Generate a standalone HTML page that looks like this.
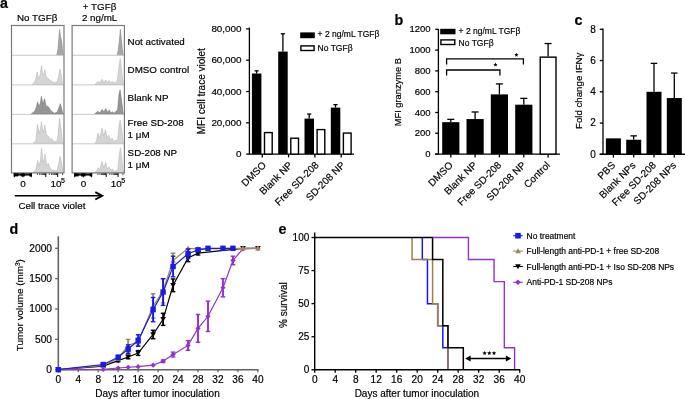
<!DOCTYPE html>
<html><head><meta charset="utf-8"><style>
html,body{margin:0;padding:0;background:#fff;}
svg{display:block;will-change:transform;}
text{font-family:"Liberation Sans", sans-serif;stroke:#000;stroke-width:0.18px;}
</style></head><body>
<svg width="685" height="399" viewBox="0 0 685 399" font-family='"Liberation Sans", sans-serif'>
<rect width="685" height="399" fill="#fff"/>
<text x="0.00" y="8.30" font-size="14.3" text-anchor="start" font-weight="bold" fill="#000" >a</text>
<text x="394.60" y="25.00" font-size="14.3" text-anchor="start" font-weight="bold" fill="#000" >b</text>
<text x="574.60" y="25.00" font-size="14.3" text-anchor="start" font-weight="bold" fill="#000" >c</text>
<text x="9.60" y="233.80" font-size="14.3" text-anchor="start" font-weight="bold" fill="#000" >d</text>
<text x="278.40" y="233.80" font-size="14.3" text-anchor="start" font-weight="bold" fill="#000" >e</text>
<text x="37.20" y="20.70" font-size="9.8" text-anchor="middle" font-weight="normal" fill="#000" >No TGFβ</text>
<text x="99.60" y="9.60" font-size="9.8" text-anchor="middle" font-weight="normal" fill="#000" >+ TGFβ</text>
<text x="99.60" y="20.70" font-size="9.8" text-anchor="middle" font-weight="normal" fill="#000" >2 ng/mL</text>
<path d="M56.80,54.80 L56.80,54.80 L58.00,48.80 L58.80,38.80 L59.60,29.50 L60.60,36.80 L61.60,40.80 L62.40,48.30 L63.00,54.80 Z" fill="#a6a6a6" stroke="#8c8c8c" stroke-width="0.6" stroke-linejoin="round"/>
<path d="M32.20,84.40 L32.20,84.40 L34.00,82.90 L35.60,79.40 L36.60,75.40 L37.30,72.00 L38.00,76.40 L39.00,78.40 L40.30,74.40 L41.50,65.60 L42.40,73.40 L43.20,75.00 L44.20,72.40 L45.00,69.90 L45.80,75.40 L46.70,77.60 L48.40,78.40 L50.00,80.40 L52.60,81.80 L54.00,82.40 L56.50,82.40 L57.70,80.40 L59.00,73.40 L59.90,69.10 L60.80,73.40 L61.80,79.40 L62.60,84.40 Z" fill="#d5d5d5" stroke="#bababa" stroke-width="0.6" stroke-linejoin="round"/>
<path d="M31.30,113.90 L31.30,113.90 L34.70,111.20 L36.50,106.90 L37.50,101.90 L39.00,106.50 L40.50,102.90 L41.40,96.30 L42.80,103.90 L43.70,101.90 L44.50,98.80 L46.20,106.50 L47.90,106.20 L50.90,110.70 L54.30,113.30 L57.30,112.00 L59.20,106.90 L60.30,103.70 L61.50,107.90 L62.40,112.00 L63.30,113.90 Z" fill="#959595" stroke="#777777" stroke-width="0.6" stroke-linejoin="round"/>
<path d="M33.00,143.30 L33.00,143.30 L35.60,141.20 L36.70,133.30 L37.50,124.50 L39.40,133.50 L40.60,128.30 L41.40,121.60 L43.10,132.60 L44.00,129.30 L44.80,125.00 L46.50,135.20 L48.40,136.10 L50.10,139.50 L51.80,138.60 L53.90,141.60 L56.90,141.60 L58.20,134.30 L59.60,118.20 L61.20,130.10 L62.40,141.30 L63.00,143.30 Z" fill="#d5d5d5" stroke="#bababa" stroke-width="0.6" stroke-linejoin="round"/>
<path d="M33.00,172.40 L33.00,172.40 L35.60,170.30 L37.70,160.50 L39.40,166.00 L40.60,158.40 L41.50,148.10 L43.20,162.60 L44.20,159.40 L45.00,154.10 L46.70,165.20 L48.40,163.40 L50.10,168.60 L52.60,170.30 L56.90,171.10 L58.60,164.30 L60.10,156.60 L61.60,162.60 L62.70,171.10 L63.30,172.40 Z" fill="#d5d5d5" stroke="#bababa" stroke-width="0.6" stroke-linejoin="round"/>
<line x1="11.50" y1="55.30" x2="64.00" y2="55.30" stroke="#bdbdbd" stroke-width="0.8" />
<line x1="11.50" y1="84.90" x2="64.00" y2="84.90" stroke="#bdbdbd" stroke-width="0.8" />
<line x1="11.50" y1="114.40" x2="64.00" y2="114.40" stroke="#bdbdbd" stroke-width="0.8" />
<line x1="11.50" y1="143.80" x2="64.00" y2="143.80" stroke="#bdbdbd" stroke-width="0.8" />
<rect x="11.50" y="25.50" width="52.50" height="147.40" fill="none" stroke="#7a7a7a" stroke-width="1.2"/>
<rect x="13.80" y="173.40" width="17.90" height="2.20" fill="#111" stroke="none" stroke-width="0"/>
<rect x="13.80" y="173.40" width="4.50" height="3.00" fill="#000" stroke="none" stroke-width="0"/>
<rect x="20.60" y="173.40" width="4.40" height="3.00" fill="#000" stroke="none" stroke-width="0"/>
<rect x="29.20" y="173.40" width="2.50" height="3.00" fill="#000" stroke="none" stroke-width="0"/>
<line x1="14.40" y1="173.40" x2="14.40" y2="177.20" stroke="#000" stroke-width="1.1" />
<line x1="23.00" y1="173.40" x2="23.00" y2="177.20" stroke="#000" stroke-width="1.1" />
<line x1="31.20" y1="173.40" x2="31.20" y2="177.20" stroke="#000" stroke-width="1.1" />
<line x1="37.48" y1="173.40" x2="37.48" y2="175.00" stroke="#000" stroke-width="0.7" />
<line x1="49.38" y1="173.40" x2="49.38" y2="175.00" stroke="#000" stroke-width="0.7" />
<line x1="39.58" y1="173.40" x2="39.58" y2="175.00" stroke="#000" stroke-width="0.7" />
<line x1="51.48" y1="173.40" x2="51.48" y2="175.00" stroke="#000" stroke-width="0.7" />
<line x1="41.06" y1="173.40" x2="41.06" y2="175.00" stroke="#000" stroke-width="0.7" />
<line x1="52.96" y1="173.40" x2="52.96" y2="175.00" stroke="#000" stroke-width="0.7" />
<line x1="42.22" y1="173.40" x2="42.22" y2="175.00" stroke="#000" stroke-width="0.7" />
<line x1="54.12" y1="173.40" x2="54.12" y2="175.00" stroke="#000" stroke-width="0.7" />
<line x1="43.16" y1="173.40" x2="43.16" y2="175.00" stroke="#000" stroke-width="0.7" />
<line x1="55.06" y1="173.40" x2="55.06" y2="175.00" stroke="#000" stroke-width="0.7" />
<line x1="43.96" y1="173.40" x2="43.96" y2="175.00" stroke="#000" stroke-width="0.7" />
<line x1="55.86" y1="173.40" x2="55.86" y2="175.00" stroke="#000" stroke-width="0.7" />
<line x1="44.65" y1="173.40" x2="44.65" y2="175.00" stroke="#000" stroke-width="0.7" />
<line x1="56.55" y1="173.40" x2="56.55" y2="175.00" stroke="#000" stroke-width="0.7" />
<line x1="45.26" y1="173.40" x2="45.26" y2="175.00" stroke="#000" stroke-width="0.7" />
<line x1="57.16" y1="173.40" x2="57.16" y2="175.00" stroke="#000" stroke-width="0.7" />
<line x1="45.80" y1="173.40" x2="45.80" y2="177.00" stroke="#000" stroke-width="1.0" />
<line x1="57.70" y1="173.40" x2="57.70" y2="177.00" stroke="#000" stroke-width="1.0" />
<line x1="62.60" y1="173.40" x2="62.60" y2="175.20" stroke="#000" stroke-width="0.7" />
<text x="23.10" y="187.00" font-size="9.9" text-anchor="middle" font-weight="normal" fill="#000" >0</text>
<text x="50.40" y="187.00" font-size="9.9" text-anchor="start" font-weight="normal" fill="#000" >10</text>
<text x="60.90" y="183.20" font-size="7.0" text-anchor="start" font-weight="normal" fill="#000" >5</text>
<path d="M117.20,54.80 L117.20,54.80 L118.30,49.80 L119.50,38.80 L120.40,29.30 L121.20,37.80 L122.20,47.80 L123.20,54.80 Z" fill="#a6a6a6" stroke="#8c8c8c" stroke-width="0.6" stroke-linejoin="round"/>
<path d="M94.70,84.40 L94.70,84.40 L98.10,81.40 L99.80,82.70 L102.00,79.30 L103.90,82.30 L105.80,80.10 L107.50,82.30 L109.20,80.60 L110.90,82.70 L112.60,81.80 L115.20,82.70 L117.30,80.60 L119.00,66.50 L120.30,58.40 L121.60,70.40 L122.90,81.40 L123.50,84.40 Z" fill="#d5d5d5" stroke="#bababa" stroke-width="0.6" stroke-linejoin="round"/>
<path d="M94.70,113.90 L94.70,113.90 L97.70,111.20 L99.80,112.90 L102.00,109.50 L103.90,112.00 L105.80,108.60 L107.50,112.50 L109.20,109.90 L110.90,112.90 L112.60,112.00 L114.30,113.30 L116.00,111.20 L117.70,109.50 L119.00,94.10 L120.10,89.90 L121.60,100.90 L122.90,112.00 L123.50,113.90 Z" fill="#959595" stroke="#777777" stroke-width="0.6" stroke-linejoin="round"/>
<path d="M94.70,143.30 L94.70,143.30 L96.40,141.20 L98.00,133.10 L99.80,138.60 L102.00,128.40 L103.70,136.10 L105.40,129.70 L107.10,137.80 L108.80,135.20 L110.50,140.30 L112.20,138.20 L113.90,141.60 L116.00,140.30 L117.70,140.30 L119.00,125.80 L120.10,120.30 L121.60,128.40 L122.90,141.20 L123.50,143.30 Z" fill="#d5d5d5" stroke="#bababa" stroke-width="0.6" stroke-linejoin="round"/>
<path d="M94.70,172.40 L94.70,172.40 L96.40,170.70 L98.10,167.70 L99.80,169.80 L102.00,161.30 L103.70,168.10 L105.60,162.20 L107.30,169.00 L109.00,166.90 L110.90,170.30 L112.60,169.00 L114.30,171.10 L117.70,170.70 L119.30,154.50 L120.50,147.70 L121.80,158.80 L123.00,169.80 L123.70,172.40 Z" fill="#d5d5d5" stroke="#bababa" stroke-width="0.6" stroke-linejoin="round"/>
<line x1="72.10" y1="55.30" x2="124.40" y2="55.30" stroke="#bdbdbd" stroke-width="0.8" />
<line x1="72.10" y1="84.90" x2="124.40" y2="84.90" stroke="#bdbdbd" stroke-width="0.8" />
<line x1="72.10" y1="114.40" x2="124.40" y2="114.40" stroke="#bdbdbd" stroke-width="0.8" />
<line x1="72.10" y1="143.80" x2="124.40" y2="143.80" stroke="#bdbdbd" stroke-width="0.8" />
<rect x="72.10" y="25.50" width="52.30" height="147.40" fill="none" stroke="#7a7a7a" stroke-width="1.2"/>
<rect x="74.20" y="173.40" width="17.90" height="2.20" fill="#111" stroke="none" stroke-width="0"/>
<rect x="74.20" y="173.40" width="4.50" height="3.00" fill="#000" stroke="none" stroke-width="0"/>
<rect x="81.00" y="173.40" width="4.40" height="3.00" fill="#000" stroke="none" stroke-width="0"/>
<rect x="89.60" y="173.40" width="2.50" height="3.00" fill="#000" stroke="none" stroke-width="0"/>
<line x1="74.80" y1="173.40" x2="74.80" y2="177.20" stroke="#000" stroke-width="1.1" />
<line x1="83.40" y1="173.40" x2="83.40" y2="177.20" stroke="#000" stroke-width="1.1" />
<line x1="91.60" y1="173.40" x2="91.60" y2="177.20" stroke="#000" stroke-width="1.1" />
<line x1="97.88" y1="173.40" x2="97.88" y2="175.00" stroke="#000" stroke-width="0.7" />
<line x1="109.78" y1="173.40" x2="109.78" y2="175.00" stroke="#000" stroke-width="0.7" />
<line x1="99.98" y1="173.40" x2="99.98" y2="175.00" stroke="#000" stroke-width="0.7" />
<line x1="111.88" y1="173.40" x2="111.88" y2="175.00" stroke="#000" stroke-width="0.7" />
<line x1="101.46" y1="173.40" x2="101.46" y2="175.00" stroke="#000" stroke-width="0.7" />
<line x1="113.36" y1="173.40" x2="113.36" y2="175.00" stroke="#000" stroke-width="0.7" />
<line x1="102.62" y1="173.40" x2="102.62" y2="175.00" stroke="#000" stroke-width="0.7" />
<line x1="114.52" y1="173.40" x2="114.52" y2="175.00" stroke="#000" stroke-width="0.7" />
<line x1="103.56" y1="173.40" x2="103.56" y2="175.00" stroke="#000" stroke-width="0.7" />
<line x1="115.46" y1="173.40" x2="115.46" y2="175.00" stroke="#000" stroke-width="0.7" />
<line x1="104.36" y1="173.40" x2="104.36" y2="175.00" stroke="#000" stroke-width="0.7" />
<line x1="116.26" y1="173.40" x2="116.26" y2="175.00" stroke="#000" stroke-width="0.7" />
<line x1="105.05" y1="173.40" x2="105.05" y2="175.00" stroke="#000" stroke-width="0.7" />
<line x1="116.95" y1="173.40" x2="116.95" y2="175.00" stroke="#000" stroke-width="0.7" />
<line x1="105.66" y1="173.40" x2="105.66" y2="175.00" stroke="#000" stroke-width="0.7" />
<line x1="117.56" y1="173.40" x2="117.56" y2="175.00" stroke="#000" stroke-width="0.7" />
<line x1="106.20" y1="173.40" x2="106.20" y2="177.00" stroke="#000" stroke-width="1.0" />
<line x1="118.10" y1="173.40" x2="118.10" y2="177.00" stroke="#000" stroke-width="1.0" />
<line x1="123.00" y1="173.40" x2="123.00" y2="175.20" stroke="#000" stroke-width="0.7" />
<text x="83.50" y="187.00" font-size="9.9" text-anchor="middle" font-weight="normal" fill="#000" >0</text>
<text x="110.80" y="187.00" font-size="9.9" text-anchor="start" font-weight="normal" fill="#000" >10</text>
<text x="121.30" y="183.20" font-size="7.0" text-anchor="start" font-weight="normal" fill="#000" >5</text>
<text x="127.60" y="45.00" font-size="9.8" text-anchor="start" font-weight="normal" fill="#000" >Not activated</text>
<text x="127.60" y="73.00" font-size="9.8" text-anchor="start" font-weight="normal" fill="#000" >DMSO control</text>
<text x="127.60" y="100.60" font-size="9.8" text-anchor="start" font-weight="normal" fill="#000" >Blank NP</text>
<text x="127.60" y="126.30" font-size="9.8" text-anchor="start" font-weight="normal" fill="#000" >Free SD-208</text>
<text x="127.60" y="138.20" font-size="9.8" text-anchor="start" font-weight="normal" fill="#000" >1 μM</text>
<text x="127.60" y="155.70" font-size="9.8" text-anchor="start" font-weight="normal" fill="#000" >SD-208 NP</text>
<text x="127.60" y="167.70" font-size="9.8" text-anchor="start" font-weight="normal" fill="#000" >1 μM</text>
<line x1="14.80" y1="195.80" x2="101.50" y2="195.80" stroke="#000" stroke-width="1.6" />
<polyline points="95.3,192.1 102.2,195.8 95.3,199.5" fill="none" stroke="#000" stroke-width="1.9" stroke-linejoin="miter"/>
<text x="18.40" y="209.00" font-size="9.8" text-anchor="start" font-weight="normal" fill="#000" >Cell trace violet</text>
<line x1="249.40" y1="27.60" x2="249.40" y2="154.10" stroke="#000" stroke-width="1.3" />
<line x1="246.20" y1="154.10" x2="249.40" y2="154.10" stroke="#000" stroke-width="1.3" />
<text x="241.60" y="157.27" font-size="9.9" text-anchor="end" font-weight="normal" fill="#000" >0</text>
<line x1="246.20" y1="122.80" x2="249.40" y2="122.80" stroke="#000" stroke-width="1.3" />
<text x="241.60" y="125.97" font-size="9.9" text-anchor="end" font-weight="normal" fill="#000" >20,000</text>
<line x1="246.20" y1="91.50" x2="249.40" y2="91.50" stroke="#000" stroke-width="1.3" />
<text x="241.60" y="94.67" font-size="9.9" text-anchor="end" font-weight="normal" fill="#000" >40,000</text>
<line x1="246.20" y1="60.20" x2="249.40" y2="60.20" stroke="#000" stroke-width="1.3" />
<text x="241.60" y="63.37" font-size="9.9" text-anchor="end" font-weight="normal" fill="#000" >60,000</text>
<line x1="246.20" y1="28.90" x2="249.40" y2="28.90" stroke="#000" stroke-width="1.3" />
<text x="241.60" y="32.07" font-size="9.9" text-anchor="end" font-weight="normal" fill="#000" >80,000</text>
<line x1="248.80" y1="154.10" x2="354.00" y2="154.10" stroke="#000" stroke-width="1.4" />
<line x1="256.60" y1="73.50" x2="256.60" y2="70.84" stroke="#000" stroke-width="1.3" />
<line x1="254.50" y1="70.84" x2="258.70" y2="70.84" stroke="#000" stroke-width="1.3" />
<rect x="251.90" y="73.50" width="9.50" height="80.60" fill="#000" stroke="none" stroke-width="0"/>
<rect x="264.50" y="132.58" width="7.70" height="21.52" fill="#fff" stroke="#000" stroke-width="1.4"/>
<line x1="262.30" y1="154.10" x2="262.30" y2="157.40" stroke="#000" stroke-width="1.3" />
<line x1="282.90" y1="51.59" x2="282.90" y2="33.75" stroke="#000" stroke-width="1.3" />
<line x1="280.80" y1="33.75" x2="285.00" y2="33.75" stroke="#000" stroke-width="1.3" />
<rect x="278.20" y="51.59" width="9.50" height="102.51" fill="#000" stroke="none" stroke-width="0"/>
<rect x="290.80" y="138.21" width="7.70" height="15.89" fill="#fff" stroke="#000" stroke-width="1.4"/>
<line x1="288.60" y1="154.10" x2="288.60" y2="157.40" stroke="#000" stroke-width="1.3" />
<line x1="309.20" y1="118.57" x2="309.20" y2="114.04" stroke="#000" stroke-width="1.3" />
<line x1="307.10" y1="114.04" x2="311.30" y2="114.04" stroke="#000" stroke-width="1.3" />
<rect x="304.50" y="118.57" width="9.50" height="35.53" fill="#000" stroke="none" stroke-width="0"/>
<rect x="317.10" y="129.60" width="7.70" height="24.50" fill="#fff" stroke="#000" stroke-width="1.4"/>
<line x1="314.90" y1="154.10" x2="314.90" y2="157.40" stroke="#000" stroke-width="1.3" />
<line x1="335.50" y1="107.62" x2="335.50" y2="104.65" stroke="#000" stroke-width="1.3" />
<line x1="333.40" y1="104.65" x2="337.60" y2="104.65" stroke="#000" stroke-width="1.3" />
<rect x="330.80" y="107.62" width="9.50" height="46.48" fill="#000" stroke="none" stroke-width="0"/>
<rect x="343.40" y="133.05" width="7.70" height="21.05" fill="#fff" stroke="#000" stroke-width="1.4"/>
<line x1="341.20" y1="154.10" x2="341.20" y2="157.40" stroke="#000" stroke-width="1.3" />
<text x="266.80" y="165.70" font-size="10" text-anchor="end" transform="rotate(-45 266.80 165.70)">DMSO</text>
<text x="293.10" y="165.70" font-size="10" text-anchor="end" transform="rotate(-45 293.10 165.70)">Blank NP</text>
<text x="319.40" y="165.70" font-size="10" text-anchor="end" transform="rotate(-45 319.40 165.70)">Free SD-208</text>
<text x="345.70" y="165.70" font-size="10" text-anchor="end" transform="rotate(-45 345.70 165.70)">SD-208 NP</text>
<text font-size="10" text-anchor="middle" transform="translate(205.4 91.2) rotate(-90)">MFI cell trace violet</text>
<rect x="300.20" y="32.40" width="14.60" height="5.80" fill="#000" stroke="none" stroke-width="0"/>
<rect x="300.9" y="45.9" width="13.2" height="4.6" fill="#fff" stroke="#000" stroke-width="1.4"/>
<text x="317.60" y="37.30" font-size="8.5" text-anchor="start" font-weight="normal" fill="#000" >+ 2 ng/mL TGFβ</text>
<text x="317.60" y="50.50" font-size="8.5" text-anchor="start" font-weight="normal" fill="#000" >No TGFβ</text>
<line x1="438.40" y1="29.00" x2="438.40" y2="154.10" stroke="#000" stroke-width="1.3" />
<line x1="435.20" y1="154.10" x2="438.40" y2="154.10" stroke="#000" stroke-width="1.3" />
<text x="430.60" y="157.14" font-size="9.5" text-anchor="end" font-weight="normal" fill="#000" >0</text>
<line x1="435.20" y1="133.30" x2="438.40" y2="133.30" stroke="#000" stroke-width="1.3" />
<text x="430.60" y="136.34" font-size="9.5" text-anchor="end" font-weight="normal" fill="#000" >200</text>
<line x1="435.20" y1="112.50" x2="438.40" y2="112.50" stroke="#000" stroke-width="1.3" />
<text x="430.60" y="115.54" font-size="9.5" text-anchor="end" font-weight="normal" fill="#000" >400</text>
<line x1="435.20" y1="91.70" x2="438.40" y2="91.70" stroke="#000" stroke-width="1.3" />
<text x="430.60" y="94.74" font-size="9.5" text-anchor="end" font-weight="normal" fill="#000" >600</text>
<line x1="435.20" y1="70.90" x2="438.40" y2="70.90" stroke="#000" stroke-width="1.3" />
<text x="430.60" y="73.94" font-size="9.5" text-anchor="end" font-weight="normal" fill="#000" >800</text>
<line x1="435.20" y1="50.10" x2="438.40" y2="50.10" stroke="#000" stroke-width="1.3" />
<text x="430.60" y="53.14" font-size="9.5" text-anchor="end" font-weight="normal" fill="#000" >1000</text>
<line x1="435.20" y1="29.30" x2="438.40" y2="29.30" stroke="#000" stroke-width="1.3" />
<text x="430.60" y="32.34" font-size="9.5" text-anchor="end" font-weight="normal" fill="#000" >1200</text>
<line x1="435.00" y1="154.10" x2="560.00" y2="154.10" stroke="#000" stroke-width="1.4" />
<line x1="450.80" y1="122.17" x2="450.80" y2="119.36" stroke="#000" stroke-width="1.3" />
<line x1="447.30" y1="119.36" x2="454.30" y2="119.36" stroke="#000" stroke-width="1.3" />
<rect x="442.20" y="122.17" width="17.20" height="31.93" fill="#000" stroke="none" stroke-width="0"/>
<line x1="450.80" y1="154.10" x2="450.80" y2="157.40" stroke="#000" stroke-width="1.3" />
<line x1="475.10" y1="119.05" x2="475.10" y2="111.98" stroke="#000" stroke-width="1.3" />
<line x1="471.60" y1="111.98" x2="478.60" y2="111.98" stroke="#000" stroke-width="1.3" />
<rect x="466.50" y="119.05" width="17.20" height="35.05" fill="#000" stroke="none" stroke-width="0"/>
<line x1="475.10" y1="154.10" x2="475.10" y2="157.40" stroke="#000" stroke-width="1.3" />
<line x1="499.40" y1="94.40" x2="499.40" y2="83.90" stroke="#000" stroke-width="1.3" />
<line x1="495.90" y1="83.90" x2="502.90" y2="83.90" stroke="#000" stroke-width="1.3" />
<rect x="490.80" y="94.40" width="17.20" height="59.70" fill="#000" stroke="none" stroke-width="0"/>
<line x1="499.40" y1="154.10" x2="499.40" y2="157.40" stroke="#000" stroke-width="1.3" />
<line x1="523.80" y1="104.70" x2="523.80" y2="98.36" stroke="#000" stroke-width="1.3" />
<line x1="520.30" y1="98.36" x2="527.30" y2="98.36" stroke="#000" stroke-width="1.3" />
<rect x="515.20" y="104.70" width="17.20" height="49.40" fill="#000" stroke="none" stroke-width="0"/>
<line x1="523.80" y1="154.10" x2="523.80" y2="157.40" stroke="#000" stroke-width="1.3" />
<line x1="548.10" y1="56.44" x2="548.10" y2="43.55" stroke="#000" stroke-width="1.3" />
<line x1="544.60" y1="43.55" x2="551.60" y2="43.55" stroke="#000" stroke-width="1.3" />
<rect x="540.20" y="57.14" width="15.80" height="96.96" fill="#fff" stroke="#000" stroke-width="1.4"/>
<line x1="548.10" y1="154.10" x2="548.10" y2="157.40" stroke="#000" stroke-width="1.3" />
<text x="453.40" y="165.70" font-size="10" text-anchor="end" transform="rotate(-45 453.40 165.70)">DMSO</text>
<text x="477.70" y="165.70" font-size="10" text-anchor="end" transform="rotate(-45 477.70 165.70)">Blank NP</text>
<text x="502.00" y="165.70" font-size="10" text-anchor="end" transform="rotate(-45 502.00 165.70)">Free SD-208</text>
<text x="526.40" y="165.70" font-size="10" text-anchor="end" transform="rotate(-45 526.40 165.70)">SD-208 NP</text>
<text x="550.70" y="165.70" font-size="10" text-anchor="end" transform="rotate(-45 550.70 165.70)">Control</text>
<text font-size="9.3" text-anchor="middle" transform="translate(401.3 92.2) rotate(-90)">MFI granzyme B</text>
<rect x="440.20" y="28.80" width="15.30" height="5.50" fill="#000" stroke="none" stroke-width="0"/>
<rect x="440.9" y="39.9" width="13.9" height="4.6" fill="#fff" stroke="#000" stroke-width="1.4"/>
<text x="458.60" y="33.80" font-size="8.5" text-anchor="start" font-weight="normal" fill="#000" >+ 2 ng/mL TGFβ</text>
<text x="458.60" y="45.80" font-size="8.5" text-anchor="start" font-weight="normal" fill="#000" >No TGFβ</text>
<polyline points="446.6,64.5 446.6,58.9 523.4,58.9 523.4,64.5" fill="none" stroke="#000" stroke-width="1.3"/>
<polyline points="446.6,75.6 446.6,70.0 499.9,70.0 499.9,75.6" fill="none" stroke="#000" stroke-width="1.3"/>
<polygon points="516.40,52.70 516.98,54.10 518.49,54.22 517.34,55.21 517.69,56.68 516.40,55.89 515.11,56.68 515.46,55.21 514.31,54.22 515.82,54.10" fill="#000"/>
<polygon points="495.50,62.50 496.08,63.90 497.59,64.02 496.44,65.01 496.79,66.48 495.50,65.69 494.21,66.48 494.56,65.01 493.41,64.02 494.92,63.90" fill="#000"/>
<line x1="603.00" y1="28.50" x2="603.00" y2="154.30" stroke="#000" stroke-width="1.3" />
<line x1="599.80" y1="154.30" x2="603.00" y2="154.30" stroke="#000" stroke-width="1.3" />
<text x="595.90" y="157.50" font-size="10" text-anchor="end" font-weight="normal" fill="#000" >0</text>
<line x1="599.80" y1="123.05" x2="603.00" y2="123.05" stroke="#000" stroke-width="1.3" />
<text x="595.90" y="126.25" font-size="10" text-anchor="end" font-weight="normal" fill="#000" >2</text>
<line x1="599.80" y1="91.80" x2="603.00" y2="91.80" stroke="#000" stroke-width="1.3" />
<text x="595.90" y="95.00" font-size="10" text-anchor="end" font-weight="normal" fill="#000" >4</text>
<line x1="599.80" y1="60.55" x2="603.00" y2="60.55" stroke="#000" stroke-width="1.3" />
<text x="595.90" y="63.75" font-size="10" text-anchor="end" font-weight="normal" fill="#000" >6</text>
<line x1="599.80" y1="29.30" x2="603.00" y2="29.30" stroke="#000" stroke-width="1.3" />
<text x="595.90" y="32.50" font-size="10" text-anchor="end" font-weight="normal" fill="#000" >8</text>
<line x1="599.60" y1="154.30" x2="685.00" y2="154.30" stroke="#000" stroke-width="1.4" />
<rect x="605.90" y="138.36" width="15.00" height="15.94" fill="#000" stroke="none" stroke-width="0"/>
<line x1="613.40" y1="154.30" x2="613.40" y2="157.60" stroke="#000" stroke-width="1.3" />
<line x1="633.70" y1="139.77" x2="633.70" y2="135.86" stroke="#000" stroke-width="1.3" />
<line x1="630.45" y1="135.86" x2="636.95" y2="135.86" stroke="#000" stroke-width="1.3" />
<rect x="626.20" y="139.77" width="15.00" height="14.53" fill="#000" stroke="none" stroke-width="0"/>
<line x1="633.70" y1="154.30" x2="633.70" y2="157.60" stroke="#000" stroke-width="1.3" />
<line x1="654.00" y1="91.80" x2="654.00" y2="63.36" stroke="#000" stroke-width="1.3" />
<line x1="650.75" y1="63.36" x2="657.25" y2="63.36" stroke="#000" stroke-width="1.3" />
<rect x="646.50" y="91.80" width="15.00" height="62.50" fill="#000" stroke="none" stroke-width="0"/>
<line x1="654.00" y1="154.30" x2="654.00" y2="157.60" stroke="#000" stroke-width="1.3" />
<line x1="674.30" y1="98.05" x2="674.30" y2="73.05" stroke="#000" stroke-width="1.3" />
<line x1="671.05" y1="73.05" x2="677.55" y2="73.05" stroke="#000" stroke-width="1.3" />
<rect x="666.80" y="98.05" width="15.00" height="56.25" fill="#000" stroke="none" stroke-width="0"/>
<line x1="674.30" y1="154.30" x2="674.30" y2="157.60" stroke="#000" stroke-width="1.3" />
<text x="616.00" y="165.90" font-size="10" text-anchor="end" transform="rotate(-45 616.00 165.90)">PBS</text>
<text x="636.30" y="165.90" font-size="10" text-anchor="end" transform="rotate(-45 636.30 165.90)">Blank NPs</text>
<text x="656.60" y="165.90" font-size="10" text-anchor="end" transform="rotate(-45 656.60 165.90)">Free SD-208</text>
<text x="676.90" y="165.90" font-size="10" text-anchor="end" transform="rotate(-45 676.90 165.90)">SD-208 NPs</text>
<text font-size="9.7" text-anchor="middle" transform="translate(581.6 90.8) rotate(-90)">Fold change IFNγ</text>
<line x1="58.30" y1="236.30" x2="58.30" y2="369.70" stroke="#626262" stroke-width="1.6" />
<line x1="55.10" y1="369.70" x2="58.30" y2="369.70" stroke="#626262" stroke-width="1.3" />
<text x="52.00" y="373.10" font-size="10.2" text-anchor="end" font-weight="normal" fill="#000" >0</text>
<line x1="55.10" y1="339.35" x2="58.30" y2="339.35" stroke="#626262" stroke-width="1.3" />
<text x="52.00" y="342.75" font-size="10.2" text-anchor="end" font-weight="normal" fill="#000" >500</text>
<line x1="55.10" y1="309.00" x2="58.30" y2="309.00" stroke="#626262" stroke-width="1.3" />
<text x="52.00" y="312.40" font-size="10.2" text-anchor="end" font-weight="normal" fill="#000" >1000</text>
<line x1="55.10" y1="278.65" x2="58.30" y2="278.65" stroke="#626262" stroke-width="1.3" />
<text x="52.00" y="282.05" font-size="10.2" text-anchor="end" font-weight="normal" fill="#000" >1500</text>
<line x1="55.10" y1="248.30" x2="58.30" y2="248.30" stroke="#626262" stroke-width="1.3" />
<text x="52.00" y="251.70" font-size="10.2" text-anchor="end" font-weight="normal" fill="#000" >2000</text>
<line x1="58.30" y1="369.70" x2="258.50" y2="369.70" stroke="#626262" stroke-width="1.6" />
<line x1="58.30" y1="369.70" x2="58.30" y2="372.30" stroke="#626262" stroke-width="1.3" />
<text x="58.30" y="383.30" font-size="10.1" text-anchor="middle" font-weight="normal" fill="#000" >0</text>
<line x1="78.26" y1="369.70" x2="78.26" y2="372.30" stroke="#626262" stroke-width="1.3" />
<text x="78.26" y="383.30" font-size="10.1" text-anchor="middle" font-weight="normal" fill="#000" >4</text>
<line x1="98.22" y1="369.70" x2="98.22" y2="372.30" stroke="#626262" stroke-width="1.3" />
<text x="98.22" y="383.30" font-size="10.1" text-anchor="middle" font-weight="normal" fill="#000" >8</text>
<line x1="118.18" y1="369.70" x2="118.18" y2="372.30" stroke="#626262" stroke-width="1.3" />
<text x="118.18" y="383.30" font-size="10.1" text-anchor="middle" font-weight="normal" fill="#000" >12</text>
<line x1="138.14" y1="369.70" x2="138.14" y2="372.30" stroke="#626262" stroke-width="1.3" />
<text x="138.14" y="383.30" font-size="10.1" text-anchor="middle" font-weight="normal" fill="#000" >16</text>
<line x1="158.10" y1="369.70" x2="158.10" y2="372.30" stroke="#626262" stroke-width="1.3" />
<text x="158.10" y="383.30" font-size="10.1" text-anchor="middle" font-weight="normal" fill="#000" >20</text>
<line x1="178.06" y1="369.70" x2="178.06" y2="372.30" stroke="#626262" stroke-width="1.3" />
<text x="178.06" y="383.30" font-size="10.1" text-anchor="middle" font-weight="normal" fill="#000" >24</text>
<line x1="198.02" y1="369.70" x2="198.02" y2="372.30" stroke="#626262" stroke-width="1.3" />
<text x="198.02" y="383.30" font-size="10.1" text-anchor="middle" font-weight="normal" fill="#000" >28</text>
<line x1="217.98" y1="369.70" x2="217.98" y2="372.30" stroke="#626262" stroke-width="1.3" />
<text x="217.98" y="383.30" font-size="10.1" text-anchor="middle" font-weight="normal" fill="#000" >32</text>
<line x1="237.94" y1="369.70" x2="237.94" y2="372.30" stroke="#626262" stroke-width="1.3" />
<text x="237.94" y="383.30" font-size="10.1" text-anchor="middle" font-weight="normal" fill="#000" >36</text>
<line x1="257.90" y1="369.70" x2="257.90" y2="372.30" stroke="#626262" stroke-width="1.3" />
<text x="257.90" y="383.30" font-size="10.1" text-anchor="middle" font-weight="normal" fill="#000" >40</text>
<text x="157.50" y="396.60" font-size="10" text-anchor="middle" font-weight="normal" fill="#000" >Days after tumor inoculation</text>
<text font-size="9.9" text-anchor="middle" transform="translate(23.2 305.2) rotate(-90)">Tumor volume (mm<tspan font-size="6.5" dy="-3.5">3</tspan><tspan dy="3.5">)</tspan></text>
<polyline points="58.30,369.70 103.21,366.06 118.18,360.59 128.16,356.95 138.14,353.01 153.11,334.49 163.09,319.32 173.07,285.33 188.04,258.01 198.02,253.16 242.93,248.30 257.90,248.30" fill="none" stroke="#000" stroke-width="1.2"/>
<polygon points="55.50,367.46 61.10,367.46 58.30,372.50" fill="#000"/>
<line x1="103.21" y1="366.97" x2="103.21" y2="365.15" stroke="#000" stroke-width="1.9" />
<line x1="100.91" y1="365.15" x2="105.51" y2="365.15" stroke="#000" stroke-width="1.4" />
<line x1="100.91" y1="366.97" x2="105.51" y2="366.97" stroke="#000" stroke-width="1.4" />
<polygon points="100.41,363.82 106.01,363.82 103.21,368.86" fill="#000"/>
<line x1="118.18" y1="361.81" x2="118.18" y2="359.38" stroke="#000" stroke-width="1.9" />
<line x1="115.88" y1="359.38" x2="120.48" y2="359.38" stroke="#000" stroke-width="1.4" />
<line x1="115.88" y1="361.81" x2="120.48" y2="361.81" stroke="#000" stroke-width="1.4" />
<polygon points="115.38,358.35 120.98,358.35 118.18,363.39" fill="#000"/>
<line x1="128.16" y1="358.77" x2="128.16" y2="355.13" stroke="#000" stroke-width="1.9" />
<line x1="125.86" y1="355.13" x2="130.46" y2="355.13" stroke="#000" stroke-width="1.4" />
<line x1="125.86" y1="358.77" x2="130.46" y2="358.77" stroke="#000" stroke-width="1.4" />
<polygon points="125.36,354.71 130.96,354.71 128.16,359.75" fill="#000"/>
<line x1="138.14" y1="355.44" x2="138.14" y2="350.58" stroke="#000" stroke-width="1.9" />
<line x1="135.84" y1="350.58" x2="140.44" y2="350.58" stroke="#000" stroke-width="1.4" />
<line x1="135.84" y1="355.44" x2="140.44" y2="355.44" stroke="#000" stroke-width="1.4" />
<polygon points="135.34,350.77 140.94,350.77 138.14,355.81" fill="#000"/>
<line x1="153.11" y1="338.74" x2="153.11" y2="330.25" stroke="#000" stroke-width="1.9" />
<line x1="150.81" y1="330.25" x2="155.41" y2="330.25" stroke="#000" stroke-width="1.4" />
<line x1="150.81" y1="338.74" x2="155.41" y2="338.74" stroke="#000" stroke-width="1.4" />
<polygon points="150.31,332.25 155.91,332.25 153.11,337.29" fill="#000"/>
<line x1="163.09" y1="325.39" x2="163.09" y2="313.25" stroke="#000" stroke-width="1.9" />
<line x1="160.79" y1="313.25" x2="165.39" y2="313.25" stroke="#000" stroke-width="1.4" />
<line x1="160.79" y1="325.39" x2="165.39" y2="325.39" stroke="#000" stroke-width="1.4" />
<polygon points="160.29,317.08 165.89,317.08 163.09,322.12" fill="#000"/>
<line x1="173.07" y1="291.70" x2="173.07" y2="278.95" stroke="#000" stroke-width="1.9" />
<line x1="170.77" y1="278.95" x2="175.37" y2="278.95" stroke="#000" stroke-width="1.4" />
<line x1="170.77" y1="291.70" x2="175.37" y2="291.70" stroke="#000" stroke-width="1.4" />
<polygon points="170.27,283.09 175.87,283.09 173.07,288.13" fill="#000"/>
<line x1="188.04" y1="261.65" x2="188.04" y2="254.37" stroke="#000" stroke-width="1.9" />
<line x1="185.74" y1="254.37" x2="190.34" y2="254.37" stroke="#000" stroke-width="1.4" />
<line x1="185.74" y1="261.65" x2="190.34" y2="261.65" stroke="#000" stroke-width="1.4" />
<polygon points="185.24,255.77 190.84,255.77 188.04,260.81" fill="#000"/>
<line x1="198.02" y1="254.98" x2="198.02" y2="251.33" stroke="#000" stroke-width="1.9" />
<line x1="195.72" y1="251.33" x2="200.32" y2="251.33" stroke="#000" stroke-width="1.4" />
<line x1="195.72" y1="254.98" x2="200.32" y2="254.98" stroke="#000" stroke-width="1.4" />
<polygon points="195.22,250.92 200.82,250.92 198.02,255.96" fill="#000"/>
<polygon points="240.13,246.06 245.73,246.06 242.93,251.10" fill="#000"/>
<polygon points="255.10,246.06 260.70,246.06 257.90,251.10" fill="#000"/>
<polyline points="58.30,369.70 103.21,369.40 118.18,368.00 128.16,367.27 138.14,366.66 153.11,365.15 163.09,361.20 173.07,354.52 188.04,345.42 198.02,328.42 208.00,316.28 222.97,287.75 232.95,260.44 242.93,248.91 257.90,248.30" fill="none" stroke="#9430cc" stroke-width="1.2"/>
<polygon points="55.70,369.70 58.30,367.10 60.90,369.70 58.30,372.30" fill="#9430cc"/>
<polygon points="100.61,369.40 103.21,366.80 105.81,369.40 103.21,372.00" fill="#9430cc"/>
<polygon points="115.58,368.00 118.18,365.40 120.78,368.00 118.18,370.60" fill="#9430cc"/>
<polygon points="125.56,367.27 128.16,364.67 130.76,367.27 128.16,369.87" fill="#9430cc"/>
<polygon points="135.54,366.66 138.14,364.06 140.74,366.66 138.14,369.26" fill="#9430cc"/>
<polygon points="150.51,365.15 153.11,362.55 155.71,365.15 153.11,367.75" fill="#9430cc"/>
<line x1="163.09" y1="362.42" x2="163.09" y2="359.99" stroke="#9430cc" stroke-width="1.9" />
<line x1="160.79" y1="359.99" x2="165.39" y2="359.99" stroke="#9430cc" stroke-width="1.4" />
<line x1="160.79" y1="362.42" x2="165.39" y2="362.42" stroke="#9430cc" stroke-width="1.4" />
<polygon points="160.49,361.20 163.09,358.60 165.69,361.20 163.09,363.80" fill="#9430cc"/>
<line x1="173.07" y1="356.95" x2="173.07" y2="352.10" stroke="#9430cc" stroke-width="1.9" />
<line x1="170.77" y1="352.10" x2="175.37" y2="352.10" stroke="#9430cc" stroke-width="1.4" />
<line x1="170.77" y1="356.95" x2="175.37" y2="356.95" stroke="#9430cc" stroke-width="1.4" />
<polygon points="170.47,354.52 173.07,351.92 175.67,354.52 173.07,357.12" fill="#9430cc"/>
<line x1="188.04" y1="350.28" x2="188.04" y2="340.56" stroke="#9430cc" stroke-width="1.9" />
<line x1="185.74" y1="340.56" x2="190.34" y2="340.56" stroke="#9430cc" stroke-width="1.4" />
<line x1="185.74" y1="350.28" x2="190.34" y2="350.28" stroke="#9430cc" stroke-width="1.4" />
<polygon points="185.44,345.42 188.04,342.82 190.64,345.42 188.04,348.02" fill="#9430cc"/>
<line x1="198.02" y1="342.38" x2="198.02" y2="314.46" stroke="#9430cc" stroke-width="1.9" />
<line x1="195.72" y1="314.46" x2="200.32" y2="314.46" stroke="#9430cc" stroke-width="1.4" />
<line x1="195.72" y1="342.38" x2="200.32" y2="342.38" stroke="#9430cc" stroke-width="1.4" />
<polygon points="195.42,328.42 198.02,325.82 200.62,328.42 198.02,331.02" fill="#9430cc"/>
<line x1="208.00" y1="331.46" x2="208.00" y2="301.11" stroke="#9430cc" stroke-width="1.9" />
<line x1="205.70" y1="301.11" x2="210.30" y2="301.11" stroke="#9430cc" stroke-width="1.4" />
<line x1="205.70" y1="331.46" x2="210.30" y2="331.46" stroke="#9430cc" stroke-width="1.4" />
<polygon points="205.40,316.28 208.00,313.68 210.60,316.28 208.00,318.88" fill="#9430cc"/>
<line x1="222.97" y1="296.86" x2="222.97" y2="278.65" stroke="#9430cc" stroke-width="1.9" />
<line x1="220.67" y1="278.65" x2="225.27" y2="278.65" stroke="#9430cc" stroke-width="1.4" />
<line x1="220.67" y1="296.86" x2="225.27" y2="296.86" stroke="#9430cc" stroke-width="1.4" />
<polygon points="220.37,287.75 222.97,285.15 225.57,287.75 222.97,290.36" fill="#9430cc"/>
<line x1="232.95" y1="264.69" x2="232.95" y2="256.19" stroke="#9430cc" stroke-width="1.9" />
<line x1="230.65" y1="256.19" x2="235.25" y2="256.19" stroke="#9430cc" stroke-width="1.4" />
<line x1="230.65" y1="264.69" x2="235.25" y2="264.69" stroke="#9430cc" stroke-width="1.4" />
<polygon points="230.35,260.44 232.95,257.84 235.55,260.44 232.95,263.04" fill="#9430cc"/>
<polygon points="240.33,248.91 242.93,246.31 245.53,248.91 242.93,251.51" fill="#9430cc"/>
<polygon points="255.30,248.30 257.90,245.70 260.50,248.30 257.90,250.90" fill="#9430cc"/>
<polyline points="58.30,369.70 103.21,365.45 118.18,358.17 128.16,345.42 138.14,341.78 153.11,305.96 163.09,290.79 173.07,260.44 188.04,248.30 198.02,248.91 242.93,248.30 257.90,248.30" fill="none" stroke="#9c8a5c" stroke-width="1.2"/>
<polygon points="55.50,371.94 61.10,371.94 58.30,366.90" fill="#9c8a5c"/>
<line x1="103.21" y1="366.66" x2="103.21" y2="364.24" stroke="#9c8a5c" stroke-width="1.9" />
<line x1="100.91" y1="364.24" x2="105.51" y2="364.24" stroke="#9c8a5c" stroke-width="1.4" />
<line x1="100.91" y1="366.66" x2="105.51" y2="366.66" stroke="#9c8a5c" stroke-width="1.4" />
<polygon points="100.41,367.69 106.01,367.69 103.21,362.65" fill="#9c8a5c"/>
<line x1="118.18" y1="359.68" x2="118.18" y2="356.65" stroke="#9c8a5c" stroke-width="1.9" />
<line x1="115.88" y1="356.65" x2="120.48" y2="356.65" stroke="#9c8a5c" stroke-width="1.4" />
<line x1="115.88" y1="359.68" x2="120.48" y2="359.68" stroke="#9c8a5c" stroke-width="1.4" />
<polygon points="115.38,360.41 120.98,360.41 118.18,355.37" fill="#9c8a5c"/>
<line x1="128.16" y1="351.49" x2="128.16" y2="339.35" stroke="#9c8a5c" stroke-width="1.9" />
<line x1="125.86" y1="339.35" x2="130.46" y2="339.35" stroke="#9c8a5c" stroke-width="1.4" />
<line x1="125.86" y1="351.49" x2="130.46" y2="351.49" stroke="#9c8a5c" stroke-width="1.4" />
<polygon points="125.36,347.66 130.96,347.66 128.16,342.62" fill="#9c8a5c"/>
<line x1="138.14" y1="345.42" x2="138.14" y2="338.14" stroke="#9c8a5c" stroke-width="1.9" />
<line x1="135.84" y1="338.14" x2="140.44" y2="338.14" stroke="#9c8a5c" stroke-width="1.4" />
<line x1="135.84" y1="345.42" x2="140.44" y2="345.42" stroke="#9c8a5c" stroke-width="1.4" />
<polygon points="135.34,344.02 140.94,344.02 138.14,338.98" fill="#9c8a5c"/>
<line x1="153.11" y1="318.10" x2="153.11" y2="293.82" stroke="#9c8a5c" stroke-width="1.9" />
<line x1="150.81" y1="293.82" x2="155.41" y2="293.82" stroke="#9c8a5c" stroke-width="1.4" />
<line x1="150.81" y1="318.10" x2="155.41" y2="318.10" stroke="#9c8a5c" stroke-width="1.4" />
<polygon points="150.31,308.20 155.91,308.20 153.11,303.16" fill="#9c8a5c"/>
<line x1="163.09" y1="302.93" x2="163.09" y2="278.65" stroke="#9c8a5c" stroke-width="1.9" />
<line x1="160.79" y1="278.65" x2="165.39" y2="278.65" stroke="#9c8a5c" stroke-width="1.4" />
<line x1="160.79" y1="302.93" x2="165.39" y2="302.93" stroke="#9c8a5c" stroke-width="1.4" />
<polygon points="160.29,293.03 165.89,293.03 163.09,287.99" fill="#9c8a5c"/>
<line x1="173.07" y1="267.72" x2="173.07" y2="253.16" stroke="#9c8a5c" stroke-width="1.9" />
<line x1="170.77" y1="253.16" x2="175.37" y2="253.16" stroke="#9c8a5c" stroke-width="1.4" />
<line x1="170.77" y1="267.72" x2="175.37" y2="267.72" stroke="#9c8a5c" stroke-width="1.4" />
<polygon points="170.27,262.68 175.87,262.68 173.07,257.64" fill="#9c8a5c"/>
<polygon points="185.24,250.54 190.84,250.54 188.04,245.50" fill="#9c8a5c"/>
<polygon points="195.22,251.15 200.82,251.15 198.02,246.11" fill="#9c8a5c"/>
<polygon points="240.13,250.54 245.73,250.54 242.93,245.50" fill="#9c8a5c"/>
<polygon points="255.10,250.54 260.70,250.54 257.90,245.50" fill="#9c8a5c"/>
<polyline points="58.30,369.70 103.21,364.54 118.18,357.26 128.16,349.06 138.14,340.56 153.11,309.61 163.09,292.00 173.07,266.51 188.04,253.76 198.02,249.82 208.00,248.30 222.97,248.30 232.95,248.30" fill="none" stroke="#1a1ae8" stroke-width="1.2"/>
<rect x="55.60" y="367.00" width="5.40" height="5.40" fill="#1a1ae8" stroke="none" stroke-width="0"/>
<line x1="103.21" y1="366.06" x2="103.21" y2="363.02" stroke="#1a1ae8" stroke-width="1.9" />
<line x1="100.91" y1="363.02" x2="105.51" y2="363.02" stroke="#1a1ae8" stroke-width="1.4" />
<line x1="100.91" y1="366.06" x2="105.51" y2="366.06" stroke="#1a1ae8" stroke-width="1.4" />
<rect x="100.51" y="361.84" width="5.40" height="5.40" fill="#1a1ae8" stroke="none" stroke-width="0"/>
<line x1="118.18" y1="359.08" x2="118.18" y2="355.44" stroke="#1a1ae8" stroke-width="1.9" />
<line x1="115.88" y1="355.44" x2="120.48" y2="355.44" stroke="#1a1ae8" stroke-width="1.4" />
<line x1="115.88" y1="359.08" x2="120.48" y2="359.08" stroke="#1a1ae8" stroke-width="1.4" />
<rect x="115.48" y="354.56" width="5.40" height="5.40" fill="#1a1ae8" stroke="none" stroke-width="0"/>
<line x1="128.16" y1="353.31" x2="128.16" y2="344.81" stroke="#1a1ae8" stroke-width="1.9" />
<line x1="125.86" y1="344.81" x2="130.46" y2="344.81" stroke="#1a1ae8" stroke-width="1.4" />
<line x1="125.86" y1="353.31" x2="130.46" y2="353.31" stroke="#1a1ae8" stroke-width="1.4" />
<rect x="125.46" y="346.36" width="5.40" height="5.40" fill="#1a1ae8" stroke="none" stroke-width="0"/>
<line x1="138.14" y1="346.33" x2="138.14" y2="334.80" stroke="#1a1ae8" stroke-width="1.9" />
<line x1="135.84" y1="334.80" x2="140.44" y2="334.80" stroke="#1a1ae8" stroke-width="1.4" />
<line x1="135.84" y1="346.33" x2="140.44" y2="346.33" stroke="#1a1ae8" stroke-width="1.4" />
<rect x="135.44" y="337.86" width="5.40" height="5.40" fill="#1a1ae8" stroke="none" stroke-width="0"/>
<line x1="153.11" y1="321.75" x2="153.11" y2="297.47" stroke="#1a1ae8" stroke-width="1.9" />
<line x1="150.81" y1="297.47" x2="155.41" y2="297.47" stroke="#1a1ae8" stroke-width="1.4" />
<line x1="150.81" y1="321.75" x2="155.41" y2="321.75" stroke="#1a1ae8" stroke-width="1.4" />
<rect x="150.41" y="306.91" width="5.40" height="5.40" fill="#1a1ae8" stroke="none" stroke-width="0"/>
<line x1="163.09" y1="305.36" x2="163.09" y2="278.65" stroke="#1a1ae8" stroke-width="1.9" />
<line x1="160.79" y1="278.65" x2="165.39" y2="278.65" stroke="#1a1ae8" stroke-width="1.4" />
<line x1="160.79" y1="305.36" x2="165.39" y2="305.36" stroke="#1a1ae8" stroke-width="1.4" />
<rect x="160.39" y="289.30" width="5.40" height="5.40" fill="#1a1ae8" stroke="none" stroke-width="0"/>
<line x1="173.07" y1="276.83" x2="173.07" y2="256.19" stroke="#1a1ae8" stroke-width="1.9" />
<line x1="170.77" y1="256.19" x2="175.37" y2="256.19" stroke="#1a1ae8" stroke-width="1.4" />
<line x1="170.77" y1="276.83" x2="175.37" y2="276.83" stroke="#1a1ae8" stroke-width="1.4" />
<rect x="170.37" y="263.81" width="5.40" height="5.40" fill="#1a1ae8" stroke="none" stroke-width="0"/>
<line x1="188.04" y1="258.62" x2="188.04" y2="248.91" stroke="#1a1ae8" stroke-width="1.9" />
<line x1="185.74" y1="248.91" x2="190.34" y2="248.91" stroke="#1a1ae8" stroke-width="1.4" />
<line x1="185.74" y1="258.62" x2="190.34" y2="258.62" stroke="#1a1ae8" stroke-width="1.4" />
<rect x="185.34" y="251.06" width="5.40" height="5.40" fill="#1a1ae8" stroke="none" stroke-width="0"/>
<line x1="198.02" y1="251.03" x2="198.02" y2="248.60" stroke="#1a1ae8" stroke-width="1.9" />
<line x1="195.72" y1="248.60" x2="200.32" y2="248.60" stroke="#1a1ae8" stroke-width="1.4" />
<line x1="195.72" y1="251.03" x2="200.32" y2="251.03" stroke="#1a1ae8" stroke-width="1.4" />
<rect x="195.32" y="247.12" width="5.40" height="5.40" fill="#1a1ae8" stroke="none" stroke-width="0"/>
<rect x="205.30" y="245.60" width="5.40" height="5.40" fill="#1a1ae8" stroke="none" stroke-width="0"/>
<rect x="220.27" y="245.60" width="5.40" height="5.40" fill="#1a1ae8" stroke="none" stroke-width="0"/>
<rect x="230.25" y="245.60" width="5.40" height="5.40" fill="#1a1ae8" stroke="none" stroke-width="0"/>
<polyline points="422.32,237.50 422.32,237.50 422.32,259.55 427.45,259.55 427.45,303.65 437.70,303.65 437.70,325.70 442.82,325.70 442.82,347.75 447.95,347.75 447.95,369.80" fill="none" stroke="#1a1ae8" stroke-width="1.5"/>
<polyline points="412.07,237.50 412.07,237.50 412.07,259.55 432.57,259.55 432.57,303.65 437.70,303.65 437.70,325.70 447.95,325.70 447.95,369.80" fill="none" stroke="#a0804a" stroke-width="1.5"/>
<polyline points="314.70,237.50 432.57,237.50 432.57,259.55 442.82,259.55 442.82,325.70 447.95,325.70 447.95,347.75 463.32,347.75 463.32,369.80" fill="none" stroke="#000" stroke-width="1.5"/>
<polyline points="432.57,237.50 468.45,237.50 468.45,259.55 494.07,259.55 494.07,281.60 504.32,281.60 504.32,347.75 514.58,347.75 514.58,369.80" fill="none" stroke="#9430cc" stroke-width="1.4"/>
<line x1="314.70" y1="232.50" x2="314.70" y2="369.80" stroke="#000" stroke-width="1.4" />
<line x1="311.50" y1="369.80" x2="314.70" y2="369.80" stroke="#000" stroke-width="1.3" />
<text x="309.30" y="373.20" font-size="10" text-anchor="end" font-weight="normal" fill="#000" >0</text>
<line x1="311.50" y1="336.73" x2="314.70" y2="336.73" stroke="#000" stroke-width="1.3" />
<text x="309.30" y="340.12" font-size="10" text-anchor="end" font-weight="normal" fill="#000" >25</text>
<line x1="311.50" y1="303.65" x2="314.70" y2="303.65" stroke="#000" stroke-width="1.3" />
<text x="309.30" y="307.05" font-size="10" text-anchor="end" font-weight="normal" fill="#000" >50</text>
<line x1="311.50" y1="270.57" x2="314.70" y2="270.57" stroke="#000" stroke-width="1.3" />
<text x="309.30" y="273.97" font-size="10" text-anchor="end" font-weight="normal" fill="#000" >75</text>
<line x1="311.50" y1="237.50" x2="314.70" y2="237.50" stroke="#000" stroke-width="1.3" />
<text x="309.30" y="240.90" font-size="10" text-anchor="end" font-weight="normal" fill="#000" >100</text>
<line x1="314.70" y1="369.80" x2="520.20" y2="369.80" stroke="#000" stroke-width="1.4" />
<line x1="314.70" y1="369.80" x2="314.70" y2="372.80" stroke="#000" stroke-width="1.3" />
<text x="314.70" y="383.30" font-size="10.1" text-anchor="middle" font-weight="normal" fill="#000" >0</text>
<line x1="335.20" y1="369.80" x2="335.20" y2="372.80" stroke="#000" stroke-width="1.3" />
<text x="335.20" y="383.30" font-size="10.1" text-anchor="middle" font-weight="normal" fill="#000" >4</text>
<line x1="355.70" y1="369.80" x2="355.70" y2="372.80" stroke="#000" stroke-width="1.3" />
<text x="355.70" y="383.30" font-size="10.1" text-anchor="middle" font-weight="normal" fill="#000" >8</text>
<line x1="376.20" y1="369.80" x2="376.20" y2="372.80" stroke="#000" stroke-width="1.3" />
<text x="376.20" y="383.30" font-size="10.1" text-anchor="middle" font-weight="normal" fill="#000" >12</text>
<line x1="396.70" y1="369.80" x2="396.70" y2="372.80" stroke="#000" stroke-width="1.3" />
<text x="396.70" y="383.30" font-size="10.1" text-anchor="middle" font-weight="normal" fill="#000" >16</text>
<line x1="417.20" y1="369.80" x2="417.20" y2="372.80" stroke="#000" stroke-width="1.3" />
<text x="417.20" y="383.30" font-size="10.1" text-anchor="middle" font-weight="normal" fill="#000" >20</text>
<line x1="437.70" y1="369.80" x2="437.70" y2="372.80" stroke="#000" stroke-width="1.3" />
<text x="437.70" y="383.30" font-size="10.1" text-anchor="middle" font-weight="normal" fill="#000" >24</text>
<line x1="458.20" y1="369.80" x2="458.20" y2="372.80" stroke="#000" stroke-width="1.3" />
<text x="458.20" y="383.30" font-size="10.1" text-anchor="middle" font-weight="normal" fill="#000" >28</text>
<line x1="478.70" y1="369.80" x2="478.70" y2="372.80" stroke="#000" stroke-width="1.3" />
<text x="478.70" y="383.30" font-size="10.1" text-anchor="middle" font-weight="normal" fill="#000" >32</text>
<line x1="499.20" y1="369.80" x2="499.20" y2="372.80" stroke="#000" stroke-width="1.3" />
<text x="499.20" y="383.30" font-size="10.1" text-anchor="middle" font-weight="normal" fill="#000" >36</text>
<line x1="519.70" y1="369.80" x2="519.70" y2="372.80" stroke="#000" stroke-width="1.3" />
<text x="519.70" y="383.30" font-size="10.1" text-anchor="middle" font-weight="normal" fill="#000" >40</text>
<text x="416.90" y="396.60" font-size="10" text-anchor="middle" font-weight="normal" fill="#000" >Days after tumor inoculation</text>
<text font-size="10" text-anchor="middle" transform="translate(287.4 305.1) rotate(-90)">% survival</text>
<line x1="468.00" y1="358.50" x2="508.50" y2="358.50" stroke="#000" stroke-width="1.4" />
<polygon points="465.1,358.5 470.6,355.6 470.6,361.4" fill="#000"/>
<polygon points="511.4,358.5 505.9,355.6 505.9,361.4" fill="#000"/>
<polygon points="484.60,350.90 485.21,352.36 486.79,352.49 485.58,353.52 485.95,355.06 484.60,354.24 483.25,355.06 483.62,353.52 482.41,352.49 483.99,352.36" fill="#000"/>
<polygon points="489.30,350.90 489.91,352.36 491.49,352.49 490.28,353.52 490.65,355.06 489.30,354.24 487.95,355.06 488.32,353.52 487.11,352.49 488.69,352.36" fill="#000"/>
<polygon points="494.00,350.90 494.61,352.36 496.19,352.49 494.98,353.52 495.35,355.06 494.00,354.24 492.65,355.06 493.02,353.52 491.81,352.49 493.39,352.36" fill="#000"/>
<line x1="513.20" y1="235.70" x2="522.80" y2="235.70" stroke="#1a1ae8" stroke-width="1.1" />
<rect x="515.20" y="232.90" width="5.60" height="5.60" fill="#1a1ae8" stroke="none" stroke-width="0"/>
<text x="526.60" y="238.70" font-size="8.45" text-anchor="start" font-weight="normal" fill="#000" >No treatment</text>
<line x1="513.20" y1="251.10" x2="522.80" y2="251.10" stroke="#9c8a5c" stroke-width="1.1" />
<polygon points="515.20,253.34 520.80,253.34 518.00,248.30" fill="#9c8a5c"/>
<text x="526.60" y="254.10" font-size="8.45" text-anchor="start" font-weight="normal" fill="#000" >Full-length anti-PD-1 + free SD-208</text>
<line x1="513.20" y1="266.50" x2="522.80" y2="266.50" stroke="#000" stroke-width="1.1" />
<polygon points="515.20,264.26 520.80,264.26 518.00,269.30" fill="#000"/>
<text x="526.60" y="269.50" font-size="8.45" text-anchor="start" font-weight="normal" fill="#000" >Full-length anti-PD-1 + Iso SD-208 NPs</text>
<line x1="513.20" y1="282.30" x2="522.80" y2="282.30" stroke="#9430cc" stroke-width="1.1" />
<polygon points="515.20,282.30 518.00,279.50 520.80,282.30 518.00,285.10" fill="#9430cc"/>
<text x="526.60" y="285.30" font-size="8.45" text-anchor="start" font-weight="normal" fill="#000" >Anti-PD-1 SD-208 NPs</text>
</svg>
</body></html>
